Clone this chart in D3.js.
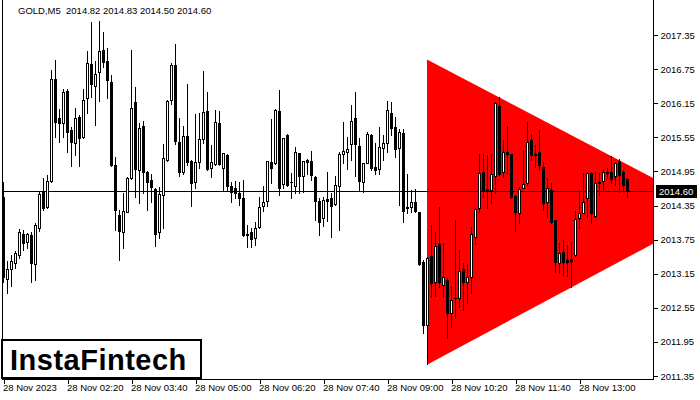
<!DOCTYPE html>
<html><head><meta charset="utf-8">
<script src="https://cdn.jsdelivr.net/npm/d3@7"></script>
<style>
body{margin:0;background:#fff}
svg{display:block}
text{font-family:"Liberation Sans",Arial,sans-serif}
</style>
</head><body>
<svg id="c" width="700" height="400"></svg>
<script>
// ---------- data ----------
const symbol = "GOLD,M5";
const firstBarTime = "01:00";   // first bar of 28 Nov 2023, 5-minute bars
const barMinutes = 5;
const openP = [2014.50,2013.06,2013.23,2013.34,2013.48,2013.85,2013.71,2013.83,2013.32,2013.95,
2014.59,2014.32,2014.78,2016.58,2015.89,2015.80,2016.37,2015.68,2015.45,2015.91,
2015.56,2016.24,2016.84,2016.45,2016.70,2017.09,2016.89,2016.52,2015.06,2014.18,
2013.88,2014.24,2014.83,2016.17,2014.97,2015.75,2014.94,2014.80,2014.64,2013.88,
2014.53,2015.15,2016.21,2016.82,2015.47,2014.94,2015.57,2015.14,2014.76,2015.12,
2015.52,2016.01,2015.01,2015.08,2015.80,2015.01,2015.24,2014.69,2014.66,2014.57,
2014.48,2013.84,2013.88,2013.78,2013.97,2014.34,2014.43,2015.12,2015.10,2016.01,
2014.73,2015.59,2014.77,2014.69,2015.27,2014.87,2015.15,2015.13,2014.86,2014.43,
2014.13,2014.46,2014.48,2014.38,2014.69,2015.26,2015.29,2015.43,2015.89,2015.40,
2014.76,2015.10,2015.59,2015.03,2014.99,2015.36,2015.45,2015.98,2015.73,2015.36,
2015.63,2014.32,2014.32,2014.41,2014.23,2013.36,2012.25,2013.46,2013.00,2013.67,
2012.95,2013.04,2012.46,2012.73,2012.72,2013.23,2013.00,2013.09,2013.80,2014.31,
2014.94,2014.64,2014.62,2014.87,2016.10,2014.94,2015.29,2015.25,2014.52,2014.22,
2014.66,2014.75,2015.50,2015.26,2015.29,2015.03,2014.41,2014.62,2014.09,2013.34,
2013.53,2013.39,2013.41,2013.48,2014.13,2014.22,2014.48,2014.92,2014.17,2014.76,
2014.78,2014.94,2014.94,2014.87,2015.13,2014.94,2014.82];
const highP = [2014.76,2013.37,2013.48,2013.55,2013.94,2013.92,2013.87,2013.88,2014.04,2014.59,
2014.83,2014.89,2016.73,2016.91,2016.05,2016.40,2016.40,2015.73,2016.07,2015.94,
2016.40,2017.07,2017.58,2016.89,2017.60,2017.40,2017.12,2016.65,2015.20,2014.27,
2014.57,2014.85,2017.09,2016.44,2015.80,2015.84,2014.96,2014.90,2014.65,2014.67,
2015.43,2016.21,2016.86,2017.19,2015.89,2015.75,2016.49,2015.15,2015.96,2015.98,
2016.72,2016.35,2015.41,2016.03,2016.01,2015.28,2015.26,2014.76,2014.78,2014.76,
2014.80,2014.01,2013.95,2014.06,2014.50,2014.69,2015.14,2015.87,2016.05,2016.38,
2015.54,2015.60,2014.92,2015.38,2015.28,2015.14,2015.17,2015.31,2014.87,2014.48,
2014.50,2014.94,2014.57,2014.87,2015.29,2015.82,2015.56,2016.12,2016.35,2015.54,
2015.10,2015.64,2015.60,2015.45,2015.73,2015.59,2016.19,2016.17,2015.91,2015.70,
2015.70,2014.90,2014.62,2014.64,2014.24,2013.39,2013.44,2014.01,2013.88,2014.32,
2013.69,2013.07,2012.93,2014.10,2013.57,2013.34,2013.32,2013.97,2014.31,2015.26,
2015.26,2015.24,2015.26,2016.17,2016.26,2015.50,2015.75,2015.26,2014.54,2014.67,
2015.33,2015.82,2015.61,2015.41,2015.68,2015.12,2014.83,2014.75,2014.10,2013.69,
2013.74,2013.65,2013.71,2014.25,2014.62,2014.92,2014.94,2014.94,2014.94,2014.92,
2014.99,2015.01,2015.22,2015.12,2015.17,2014.97,2014.83];
const lowP = [2013.00,2012.81,2012.93,2013.25,2013.43,2013.57,2013.60,2013.00,2013.04,2013.90,
2014.27,2014.31,2014.76,2015.56,2015.47,2015.56,2015.29,2015.04,2015.24,2015.04,
2015.54,2015.98,2016.26,2015.77,2016.19,2016.79,2016.24,2015.04,2013.92,2013.39,
2013.60,2014.23,2014.82,2014.50,2014.39,2014.57,2014.27,2014.41,2013.64,2013.78,
2013.95,2015.13,2016.14,2015.43,2014.87,2014.90,2015.06,2014.34,2014.66,2015.01,
2015.45,2014.97,2014.85,2015.06,2015.07,2014.62,2014.62,2014.41,2014.48,2014.36,
2013.81,2013.62,2013.62,2013.65,2013.96,2014.25,2014.34,2014.75,2015.08,2014.54,
2014.66,2014.70,2014.48,2014.57,2014.57,2014.59,2014.90,2014.80,2014.10,2013.83,
2013.99,2014.08,2013.80,2014.36,2013.92,2015.10,2014.99,2015.15,2014.87,2014.62,
2014.59,2015.09,2014.97,2014.90,2014.90,2015.15,2015.29,2015.59,2015.20,2014.36,
2014.06,2014.22,2014.24,2014.24,2013.30,2012.11,2011.56,2012.74,2012.76,2012.92,
2012.74,2012.02,2012.21,2012.37,2012.56,2012.51,2012.63,2012.81,2013.67,2014.24,
2014.50,2014.31,2014.39,2014.57,2014.89,2014.85,2014.90,2014.48,2013.90,2014.04,
2014.65,2014.71,2015.15,2015.03,2014.97,2014.27,2014.15,2014.05,2013.18,2013.16,
2013.13,2013.11,2012.92,2013.46,2013.95,2014.21,2014.15,2014.04,2014.15,2014.54,
2014.62,2014.83,2014.75,2014.71,2014.59,2014.61,2014.50];
const closeP = [2013.09,2013.23,2013.37,2013.52,2013.88,2013.69,2013.85,2013.34,2014.01,2014.55,
2014.31,2014.78,2016.58,2015.82,2015.80,2016.35,2015.64,2015.47,2015.89,2015.54,
2016.21,2016.86,2016.49,2016.66,2017.07,2016.87,2016.56,2015.06,2014.27,2013.90,
2014.25,2014.84,2016.07,2014.99,2015.71,2014.94,2014.76,2014.67,2013.85,2014.55,
2015.19,2016.19,2016.82,2015.49,2014.94,2015.57,2015.12,2014.75,2015.12,2015.52,
2016.00,2014.99,2015.12,2015.82,2015.08,2015.27,2014.69,2014.59,2014.57,2014.48,
2013.83,2013.83,2013.76,2013.95,2014.32,2014.41,2015.13,2015.01,2016.03,2014.66,
2015.53,2014.71,2014.76,2015.29,2014.87,2015.13,2015.12,2014.89,2014.43,2014.06,
2014.45,2014.43,2014.34,2014.71,2015.26,2015.31,2015.34,2015.84,2015.43,2014.78,
2015.09,2015.61,2015.01,2014.97,2015.38,2015.45,2016.03,2015.71,2015.34,2015.64,
2014.25,2014.31,2014.41,2014.25,2013.32,2012.25,2013.43,2012.99,2013.64,2013.00,
2013.09,2012.46,2012.69,2012.72,2013.20,2013.00,2013.09,2013.85,2014.29,2014.92,
2014.62,2014.63,2014.90,2016.16,2014.90,2015.29,2015.26,2014.50,2014.24,2014.64,
2014.73,2015.47,2015.24,2015.24,2015.06,2014.39,2014.66,2014.06,2013.36,2013.52,
2013.36,2013.36,2013.37,2014.11,2014.22,2014.41,2014.92,2014.22,2014.75,2014.75,
2014.94,2014.92,2014.81,2015.10,2014.89,2014.71,2014.60];
const priceTicks = [2017.35,2016.75,2016.15,2015.55,2014.95,2014.35,2013.75,2013.15,2012.55,2011.95,2011.35];
const timeTickTimes = ["01:00","02:20","03:40","05:00","06:20","07:40","09:00","10:20","11:40","13:00"];
const timeTickLabels = ["28 Nov 2023","28 Nov 02:20","28 Nov 03:40","28 Nov 05:00","28 Nov 06:20","28 Nov 07:40","28 Nov 09:00","28 Nov 10:20","28 Nov 11:40","28 Nov 13:00"];
const triangleTimes = ["09:50","15:50","09:50"];
const trianglePrices = [2016.92,2014.26,2011.55];
const currentPrice = 2014.60;
const logoText = "InstaFintech";

// ---------- helpers ----------
const toMin = t => { const [h,m] = t.split(":").map(Number); return h*60+m; };
const barOf = t => (toMin(t) - toMin(firstBarTime)) / barMinutes;

const svg = d3.select("#c");
const plotL = 2.5, plotR = 653.5, plotB = 379.5;

const x = d3.scaleLinear().domain([0, 1]).range([3.5, 7.5]);
const y = d3.scaleLinear().domain([2011.35, 2017.35]).range([376, 35]);
const py = v => Math.round(y(v));

svg.append("defs").append("clipPath").attr("id","plot")
  .append("rect").attr("x", plotL).attr("y", 0).attr("width", plotR - plotL).attr("height", plotB);

const g = svg.append("g").attr("clip-path","url(#plot)");

// triangle pattern
const tri = triangleTimes.map((t,i) => [x(barOf(t)) - 0.5, y(trianglePrices[i])]);
g.append("path").attr("d", d3.line()(tri) + "Z").attr("fill", "#ff0000");

// current price line
g.append("line").attr("x1", plotL).attr("x2", plotR)
  .attr("y1", py(currentPrice) + 0.5).attr("y2", py(currentPrice) + 0.5)
  .attr("stroke", "#000").attr("stroke-width", 1);

// candles
const bars = d3.range(openP.length).map(i => ({i, o: openP[i], h: highP[i], l: lowP[i], c: closeP[i]}));
const cg = g.append("g").attr("shape-rendering","crispEdges");
cg.selectAll("line.w").data(bars).join("line")
  .attr("x1", d => x(d.i)).attr("x2", d => x(d.i))
  .attr("y1", d => py(d.h)).attr("y2", d => py(d.l) + 1)
  .attr("stroke", "#000");
cg.selectAll("rect.b").data(bars).join("rect")
  .each(function(d) {
    const top = py(Math.max(d.o, d.c)), bot = py(Math.min(d.o, d.c));
    const r = d3.select(this);
    if (d.c > d.o) {
      r.attr("x", x(d.i) - 1).attr("width", 2)
       .attr("y", top + 0.5).attr("height", Math.max(bot - top, 1))
       .attr("fill", "#fff").attr("stroke", "#000").attr("stroke-width", 1);
    } else {
      r.attr("x", x(d.i) - 1.5).attr("width", 3)
       .attr("y", top).attr("height", Math.max(bot - top + 1, 1))
       .attr("fill", "#000");
    }
  });

// frame
const frame = svg.append("g").attr("stroke", "#000").attr("shape-rendering","crispEdges");
frame.append("line").attr("x1", plotL).attr("x2", plotL).attr("y1", 0).attr("y2", plotB);
frame.append("line").attr("x1", plotR).attr("x2", plotR).attr("y1", 0).attr("y2", plotB);
frame.append("line").attr("x1", plotL).attr("x2", plotR).attr("y1", plotB).attr("y2", plotB);

// right price axis
const ya = svg.append("g").attr("transform", `translate(${plotR},0)`)
  .call(d3.axisRight(y).tickValues(priceTicks).tickSize(4).tickPadding(3).tickFormat(d3.format(".2f")));
ya.select(".domain").remove();
ya.selectAll("text").attr("font-size", 9.5).attr("font-family", "Liberation Sans, Arial, sans-serif").attr("fill", "#000");
ya.selectAll(".tick line").attr("stroke", "#000").attr("shape-rendering","crispEdges");

// bottom time axis
const xa = svg.append("g").attr("transform", `translate(0,${plotB})`)
  .call(d3.axisBottom(x).tickValues(timeTickTimes.map(barOf)).tickSize(4).tickPadding(1)
    .tickFormat((d,i) => timeTickLabels[i]));
xa.select(".domain").remove();
xa.selectAll("text").attr("text-anchor","start").attr("x", -1)
  .attr("font-size", 9.5).attr("font-family", "Liberation Sans, Arial, sans-serif").attr("fill", "#000");
xa.selectAll(".tick line").attr("stroke", "#000").attr("shape-rendering","crispEdges");

// current price label
const cy = py(currentPrice) + 0.5;
svg.append("rect").attr("x", 656).attr("y", cy - 6.5).attr("width", 41).attr("height", 13).attr("fill", "#000");
svg.append("text").attr("x", 659).attr("y", cy).attr("dy", "0.35em")
  .attr("font-size", 9.5).attr("fill", "#fff").text(d3.format(".2f")(currentPrice));

// title
svg.append("text").attr("x", 18).attr("y", 14).attr("font-size", 9.5).attr("fill", "#000")
  .attr("xml:space","preserve")
  .text(`${symbol}  ${d3.format(".2f")(openP.at(-1))} ${d3.format(".2f")(highP.at(-1))} ${d3.format(".2f")(lowP.at(-1))} ${d3.format(".2f")(closeP.at(-1))}`);

// logo
svg.append("rect").attr("x", 2).attr("y", 340).attr("width", 199).attr("height", 38)
  .attr("fill", "#fff").attr("stroke", "#000").attr("stroke-width", 2);
svg.append("text").attr("x", 10).attr("y", 370).attr("font-family", "Roboto, sans-serif")
  .attr("font-weight", 700).attr("font-size", 29).attr("letter-spacing", 0.5)
  .attr("fill", "#000").text(logoText);
</script>
</body></html>
